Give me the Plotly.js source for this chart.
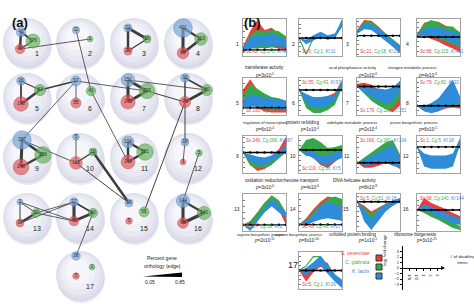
<!DOCTYPE html>
<html><head><meta charset="utf-8">
<script src="https://cdn.plot.ly/plotly-3.0.1.min.js"></script>
<style>html,body{margin:0;padding:0;background:#fff}#chart{width:474px;height:304px}</style>
</head><body><div id="chart"></div>
<script>
const W = 474, H = 304;
const FONT = 'Liberation Sans, Arial, sans-serif';

// ---------- (b) expression profiles of the 17 clusters ----------
const timePoints = [0, 1, 2, 3, 4, 5, 6];
const goTerms = ['transferase activity', '', 'acid phosphatase activity', 'nitrogen metabolic process',
  'regulation of transcription', 'protein refolding', 'aldehyde metabolic process', 'purine biosynthetic process',
  'oxidation reduction', 'hexose transport', 'DNA helicase activity', '',
  'arginine biosynthetic process', 'arginine biosynthetic process', 'unfolded protein binding', 'ribosome biogenesis', ''];
const pValues = ['3x10<sup>-5</sup>', '', '2x10<sup>-6</sup>', '4x10<sup>-6</sup>',
  '6x10<sup>-4</sup>', '1x10<sup>-4</sup>', '2x10<sup>-4</sup>', '6x10<sup>-5</sup>',
  '3x10<sup>-6</sup>', '4x10<sup>-6</sup>', '8x10<sup>-8</sup>', '',
  '2x10<sup>-11</sup>', '6x10<sup>-10</sup>', '1x10<sup>-5</sup>', '3x10<sup>-25</sup>', ''];

// genes per cluster and species (S. cerevisiae, C. glabrata, K. lactis)
const scCounts = [42, 0, 21, 88, 190, 55, 179, 79, 246, 119, 166, 1, 17, 45, 5, 68, 5];
const cgCounts = [176, 1, 18, 119, 83, 43, 226, 80, 286, 18, 281, 5, 30, 40, 51, 140, 1];
const klCounts = [46, 11, 21, 401, 26, 57, 151, 30, 387, 5, 104, 18, 2, 27, 18, 144, 26];

// log2 fold-change envelopes (upper / lower) per cluster
const scHigh = [
  [0.3, 1.5, 2.4, 1.6, 1.8, 1.3, 0.9], [], [0.6, 1.7, 1.6, 1.0, 0.2, -0.6, -1.2], [0.3, 1.5, 1.7, 1.6, 1.2, 1.0, 0.5],
  [1.5, 2.4, 1.5, 1.0, 0.6, 0.5, 0.4], [0, -0.5, -0.8, -0.8, -0.6, -0.3, 1.0], [0.3, 0.4, 0.2, -0.3, -0.8, -1.2, -0.8], [0, -0.1, 0.0, 0.3, 0.6, 0.8, 0.5],
  [0, -0.3, -0.6, -0.6, -0.3, 0.3, 1.5], [0, 0.3, 0.3, -0.3, -0.6, -0.5, 0], [0, 0.4, 0.8, 1.2, 1.6, 2.0, 0.4], [0, -1.0, -1.1, -1.1, -1.1, -1.0, 0.6],
  [0, 0.3, 1.0, 1.8, 2.2, 1.8, 0.5], [0, 0.5, 1.2, 1.8, 2.2, 2.1, 1.8], [0, -0.4, -1.0, -0.6, -0.2, 0.1, 0.4], [0, 1.2, 0.7, 0.4, 0.1, -0.3, -0.6],
  [0, -0.5, 0.8, 1.2, 0.8, -0.5, -1.2]];
const scLow = [
  [-0.3, 0.2, 0.3, 0.1, 0.2, 0.1, 0], [], [0.3, 0.9, 0.8, 0.2, -0.4, -1.2, -1.9], [0, 0.2, -0.2, -0.5, -0.9, -1.2, -1.6],
  [0, 0.5, 0.0, -0.3, -0.4, -0.4, -0.4], [0, -1.5, -2.0, -2.2, -2.0, -1.2, 0.3], [0, -0.5, -1.2, -1.8, -2.4, -2.7, -2.0], [0, -0.6, -0.7, -0.6, -0.3, -0.2, -0.3],
  [0, -1.2, -1.8, -1.6, -1.2, -0.5, 0.5], [0, -0.4, -0.8, -1.5, -1.8, -1.2, -0.6], [0, -0.5, -0.5, -0.3, 0, -0.2, -0.6], [0, -1.0, -1.1, -1.1, -1.1, -1.0, 0.6],
  [0, -0.1, 0.4, 1.2, 1.6, 1.2, 0], [0, 0, 0.3, 0.5, 0.6, 0.5, 0.3], [0, -1.0, -2.0, -1.2, -0.6, -0.3, 0], [0, 0.2, -0.1, -0.4, -0.7, -1.0, -1.2],
  [0, -1.2, -0.2, 0.4, 0, -1.0, -1.8]];
const cgHigh = [
  [0.2, 1.2, 1.6, 1.5, 1.6, 1.5, 1.1], [0, -1.8, 0, 0.3, 0, 0, 2.0], [0.5, 1.5, 1.5, 0.9, 0.2, -0.4, -1.0], [0.2, 1.4, 1.8, 1.5, 1.1, 1.1, 0.4],
  [1.0, 2.0, 1.6, 1.2, 0.9, 0.8, 0.6], [0, -0.6, -1.0, -1.0, -0.9, -0.5, 0.8], [0.2, 0.1, -0.2, -0.6, -1.0, -1.0, -0.3], [0, 0, 0.2, 0.5, 0.9, 1.2, 0.8],
  [0, -0.4, -0.7, -0.6, -0.4, 0, 0.8], [0, 1.0, 1.2, 0.8, 0.2, 0.3, 0.5], [0, 0.5, 1.0, 1.5, 2.0, 2.2, 0.8], [0, -0.9, -1.0, -1.0, -1.0, -0.9, 0.5],
  [0, 0.3, 1.0, 1.8, 2.4, 2.0, 1.0], [0, 0.4, 1.0, 1.6, 2.0, 2.2, 2.0], [0, -0.6, -1.2, -0.7, -0.3, 0, 0.4], [0, 0.2, -0.2, -0.5, -0.8, -1.2, -1.6],
  [0, 0.5, 1.5, 1.5, 0.5, -0.5, -1.5]];
const cgLow = [
  [-0.2, 0.1, 0.1, 0.2, 0.2, 0.3, 0.2], [0, -1.8, 0, 0.3, 0, 0, 2.0], [0.2, 0.8, 0.7, 0.1, -0.5, -1.1, -1.7], [0, 0.3, 0, -0.2, -0.5, -0.8, -1.1],
  [0, 0.3, 0.1, 0, -0.1, -0.1, -0.1], [0, -1.8, -2.3, -2.3, -2.0, -1.5, 0.2], [0, -0.8, -1.5, -2.0, -2.4, -2.3, -1.2], [0, -0.5, -0.6, -0.4, -0.2, 0, 0],
  [0, -1.3, -1.5, -1.5, -1.2, -0.6, 0], [0, -0.6, -0.5, -1.2, -1.4, -1.0, -0.6], [0, -0.2, 0, 0.2, 0.3, 0.2, -0.3], [0, -1.6, -1.8, -1.8, -1.8, -1.6, 0.2],
  [0, 0, 0.5, 1.2, 1.6, 1.4, 0.5], [0, 0.1, 0.4, 0.7, 0.9, 0.8, 0.6], [0, -1.4, -2.2, -1.4, -0.8, -0.4, 0], [0, -0.3, -0.7, -1.0, -1.4, -1.8, -2.0],
  [0, 0.5, 1.5, 1.5, 0.5, -0.5, -1.5]];
const klHigh = [
  [0.2, 1.0, 1.2, 1.2, 1.3, 1.1, 0.9], [0, -0.2, 0.3, 0.7, 0.3, 0.5, 1.9], [0.5, 1.3, 1.2, 0.8, 0.1, -0.5, -1.1], [0.2, 0.9, 1.0, 1.0, 0.8, 0.6, 0.3],
  [0.6, 1.2, 1.0, 0.9, 0.8, 0.7, 0.6], [0, -0.4, -0.7, -0.7, -0.6, -0.5, 0.9], [0.2, 0, -0.2, -0.2, -0.3, -0.1, 0.6], [0, 0, 0.3, 0.8, 1.8, 2.8, 1.0],
  [0, -0.2, -0.4, -0.5, -0.3, 0.1, 0.9], [0, 0, -0.2, -0.6, -0.6, -0.3, 0], [0, 0.3, 0.7, 1.0, 1.4, 1.8, 0.5], [0, -0.6, -0.8, -0.8, -0.8, -0.6, 0.8],
  [0, -0.2, 0.6, 1.3, 2.1, 1.6, 1.0], [0, 0.3, 0.8, 1.5, 1.8, 1.6, 1.4], [0, -0.8, -1.8, -0.8, -0.2, 0.1, 0.4], [0, 0.6, 0.3, 0.0, -0.3, -0.6, -0.8],
  [0, 0.3, 0.9, 1.6, 0.6, -0.4, -1.0]];
const klLow = [
  [-0.2, 0.1, 0.3, 0.3, 0.3, 0.3, 0.2], [0, -0.7, -0.3, 0.1, -0.2, 0, 1.2], [0.2, 0.7, 0.6, 0.0, -0.6, -1.2, -1.8], [0, 0.2, 0.1, -0.1, -0.3, -0.6, -0.9],
  [0, 0.1, 0.1, 0.1, 0, 0, 0], [0, -1.3, -1.8, -1.8, -1.6, -1.0, 0.4], [0, -0.6, -1.1, -1.5, -1.8, -1.6, -0.4], [0, -0.6, -0.8, -0.6, -0.2, 0.2, 0.1],
  [0, -0.9, -1.2, -1.2, -0.9, -0.4, 0.2], [0, -0.5, -0.8, -1.4, -1.5, -1.1, -0.8], [0, -0.3, -0.2, -0.1, 0, -0.3, -0.5], [0, -1.8, -2.0, -2.0, -2.0, -1.8, 0.2],
  [0, -0.5, 0.2, 1.0, 1.5, 1.0, 0.6], [0, -0.1, 0.2, 0.4, 0.5, 0.4, 0.3], [0, -2.0, -2.9, -2.0, -1.0, -0.4, 0], [0, 0, -0.4, -0.7, -1.0, -1.3, -1.5],
  [0, -0.6, 0.1, 0.5, -0.3, -1.2, -1.9]];

// vertical extent of each small panel (log2 fold change)
const yRanges = [[-0.5, 2.5], [-2, 2.1], [-2.2, 1.8], [-2, 1.9], [-0.6, 2.5], [-2.5, 1.2], [-3, 0.9], [-1, 3],
  [-2, 1.6], [-2.3, 1.4], [-1, 2.6], [-2.4, 1], [-0.5, 2.5], [-0.5, 2.4], [-3, 0.8], [-2.1, 1.6], [-2, 2]];
const labelOnTop = [false, false, false, false, false, true, false, true, true, false, true, true, false, false, true, true, false];

const speciesNames = ['S. cerevisiae', 'C. glabrata', 'K. lactis'];
const fillColors = ['#ec3d38', '#35a84a', '#2f8cd8'];
const textColors = ['#e8403b', '#3aae4a', '#3f86d8'];
const keyTicks = ['1/8', '1/2', '1', '2', '4'];

// ---------- (a) cluster network ----------
const bubbleCol = [0, 1, 2, 3, 0, 1, 2, 3, 0, 1, 2, 3, 0, 1, 2, 3, 1];
const bubbleRow = [0, 0, 0, 0, 1, 1, 1, 1, 2, 2, 2, 2, 3, 3, 3, 3, 4];
const bubbleXs = [27, 80, 134, 188];
const bubbleYs = [42, 97, 157, 217, 275];
// node placement inside each bubble: K. lactis (blue), C. glabrata (green), S. cerevisiae (red)
const klPos = [[21,32],[76,30],[128,28],[183,28],[21,81],[76,81],[128,80],[185,78],[22,140],[76,137],[128,142],[185,142],[20,202],[74,202],[129,203],[183,201],[76,256]];
const cgPos = [[33,41],[90,39],[147,39],[201,39],[40,90],[91,91],[147,91],[207,90],[43,155],[93,152],[145,152],[199,153],[36,213],[93,213],[144,212],[204,213],[92,267]];
const scPos = [[20,49],[76,50],[128,51],[183,53],[21,104],[76,103],[128,102],[185,102],[21,167],[76,163],[128,162],[183,162],[20,223],[74,221],[129,221],[183,223],[76,276]];
// edges: [from, to, percent gene orthology]
const edges = [
  ['1K','1C',0.5],['1K','1S',0.6],['1C','1S',0.3],
  ['3K','3C',0.7],['3K','3S',0.6],['3C','3S',0.3],
  ['4K','4C',0.5],['4K','4S',0.8],['4C','4S',0.7],
  ['5K','5C',0.2],['5K','5S',0.4],['5C','5S',0.6],
  ['6K','6S',0.1],
  ['7K','7C',0.7],['7K','7S',0.8],['7C','7S',0.7],
  ['8K','8C',0.3],['8K','8S',0.3],['8C','8S',0.7],
  ['9K','9C',0.7],['9K','9S',0.8],['9C','9S',0.5],
  ['10K','10S',0.1],['10C','10S',0.3],
  ['11K','11C',0.6],['11K','11S',0.6],['11C','11S',0.6],
  ['12K','12S',0.1],
  ['13K','13S',0.15],['13K','13C',0.15],['13C','13S',0.5],
  ['14K','14C',0.4],['14K','14S',0.8],['14C','14S',0.7],
  ['16K','16C',0.5],['16K','16S',0.8],['16C','16S',0.8],
  ['1S','2C',0.1],['2K','6C',0.1],['6K','5C',0.3],['6K','7C',0.1],['6K','9K',0.1],
  ['6C','11S',0.1],['7K','8C',0.1],['7C','8S',0.15],['8S','12K',0.15],['8S','15C',0.15],
  ['9K','10S',0.1],['10S','15K',0.15],['10C','15K',0.6],['12C','16K',0.1],
  ['13K','14S',0.1],['13S','14K',0.1],['13C','14K',0.1],['13C','14S',0.1],['14C','17K',0.1]];

const px = x => x / W, py = y => 1 - y / H;
const data = [], shapes = [], annotations = [];
const layout = {
  width: W, height: H, margin: {l: 0, r: 0, t: 0, b: 0},
  paper_bgcolor: '#fff', plot_bgcolor: 'rgba(0,0,0,0)', showlegend: false,
  font: {family: FONT, color: '#222'}
};

// ----- small profile panels -----
const colLeft = [243, 299, 357, 417], rowTop = [19, 78, 136, 194, 252], boxW = 43, boxH = 37;
const cellCol = [0, 1, 2, 3, 0, 1, 2, 3, 0, 1, 2, 3, 0, 1, 2, 3, 1];
const cellRow = [0, 0, 0, 0, 1, 1, 1, 1, 2, 2, 2, 2, 3, 3, 3, 3, 4];
const titleShift = [0, 0, 0, 0, 0, 0, 0, 0, 0, 0, 0, 0, -4, 3, 0, 0, 0];
const highs = [scHigh, cgHigh, klHigh], lows = [scLow, cgLow, klLow], counts = [scCounts, cgCounts, klCounts];

for (let i = 0; i < 17; i++) {
  const s = i === 0 ? '' : String(i + 1);
  const x0 = colLeft[cellCol[i]], y0 = rowTop[cellRow[i]];
  layout['xaxis' + s] = {domain: [px(x0), px(x0 + boxW)], range: [0, 6], anchor: 'y' + s,
    showgrid: false, zeroline: false, showticklabels: false, ticks: '', showline: true, mirror: true,
    linecolor: '#8c8c8c', linewidth: 0.8, fixedrange: true};
  layout['yaxis' + s] = {domain: [py(y0 + boxH), py(y0)], range: yRanges[i], anchor: 'x' + s,
    showgrid: false, zeroline: false, showticklabels: false, ticks: 'inside', ticklen: 2, tickwidth: 0.8,
    tickcolor: '#555', dtick: 0.5, showline: true, mirror: true, linecolor: '#8c8c8c', linewidth: 0.8, fixedrange: true};
  for (let k = 0; k < 3; k++) {
    const n = counts[k][i];
    if (n === 0) continue;
    const hi = highs[k][i], lo = lows[k][i];
    if (n === 1) {
      data.push({type: 'scatter', mode: 'lines', x: timePoints, y: hi, xaxis: 'x' + s, yaxis: 'y' + s,
        line: {color: fillColors[k], width: 1.1}, hoverinfo: 'skip'});
    } else {
      data.push({type: 'scatter', mode: 'lines', fill: 'toself',
        x: timePoints.concat(timePoints.slice().reverse()), y: hi.concat(lo.slice().reverse()),
        xaxis: 'x' + s, yaxis: 'y' + s, fillcolor: fillColors[k], line: {width: 0, color: fillColors[k]}, hoverinfo: 'skip'});
    }
  }
  data.push({type: 'scatter', mode: 'lines+markers', x: timePoints, y: timePoints.map(() => 0),
    xaxis: 'x' + s, yaxis: 'y' + s, line: {color: '#000', width: 1.4}, marker: {color: '#000', size: 2.5}, hoverinfo: 'skip', cliponaxis: true});

  const lbl = '<span style="color:' + textColors[0] + '"><i>Sc</i>:' + scCounts[i] + ',</span> ' +
    '<span style="color:' + textColors[1] + '"><i>Cg</i>:' + cgCounts[i] + ',</span> ' +
    '<span style="color:' + textColors[2] + '"><i>Kl</i>:' + klCounts[i] + '</span>';
  annotations.push({xref: 'paper', yref: 'paper', x: px(x0 + 1), y: py(labelOnTop[i] ? y0 + 4 : y0 + boxH - 4.5),
    xanchor: 'left', yanchor: 'middle', text: lbl, showarrow: false, font: {size: 4.5, family: FONT}});
  annotations.push({xref: 'paper', yref: 'paper', x: px(x0 - 6), y: py(y0 + boxH / 2 + 1),
    text: String(i + 1), showarrow: false, font: {size: i === 16 ? 9 : 5, family: FONT, color: '#222'}});
  if (goTerms[i]) {
    const fs = Math.min(4.6, 106 / goTerms[i].length);
    const tx = x0 + boxW / 2 + titleShift[i];
    annotations.push({xref: 'paper', yref: 'paper', x: px(tx), y: py(y0 + boxH + 7.5),
      text: goTerms[i], showarrow: false, font: {size: fs, family: FONT, color: '#222'}});
    annotations.push({xref: 'paper', yref: 'paper', x: px(x0 + boxW / 2), y: py(y0 + boxH + 13.5),
      text: '<i>p</i>=' + pValues[i], showarrow: false, font: {size: 4.6, family: FONT, color: '#222'}});
  }
}

// species key
for (let k = 0; k < 3; k++) {
  const yk = 258 + k * 9;
  annotations.push({xref: 'paper', yref: 'paper', x: px(372), y: py(yk), xanchor: 'right',
    text: '<i>' + speciesNames[k] + '</i>', showarrow: false, font: {size: 5, family: FONT, color: textColors[k]}});
  shapes.push({type: 'rect', xref: 'paper', yref: 'paper', x0: px(376), x1: px(382), y0: py(yk + 3), y1: py(yk - 3),
    fillcolor: fillColors[k], line: {color: '#333', width: 1}});
}

// axis key: log2 fold change vs number of doubling times
layout.xaxis19 = {domain: [px(403), px(442)], range: [0, 5.6], anchor: 'free', position: py(268),
  showline: true, linecolor: '#000', linewidth: 1.2, ticks: 'outside', ticklen: 2, tickcolor: '#000',
  tickvals: [1, 2, 3, 4, 5], ticktext: keyTicks, tickfont: {size: 4.2, family: FONT}, showgrid: false, zeroline: false, fixedrange: true};
layout.yaxis19 = {domain: [py(290), py(246)], range: [-4, 4], anchor: 'x19',
  showline: true, linecolor: '#000', linewidth: 1.2, ticks: 'outside', ticklen: 2, tickcolor: '#000',
  tickvals: [-3, -2, -1, 0, 1, 2, 3], tickfont: {size: 4, family: FONT}, showgrid: false, zeroline: false, fixedrange: true};
data.push({type: 'scatter', mode: 'markers', x: [0], y: [0], xaxis: 'x19', yaxis: 'y19', marker: {size: 0.1, color: 'rgba(0,0,0,0)'}, hoverinfo: 'skip'});
annotations.push({xref: 'paper', yref: 'paper', x: px(445), y: py(268), ax: -3, ay: 0, showarrow: true,
  arrowhead: 2, arrowsize: 0.8, arrowwidth: 1, arrowcolor: '#000', text: ''});
annotations.push({xref: 'paper', yref: 'paper', x: px(448), y: py(267), xanchor: 'left',
  text: '# of doubling<br>      times', align: 'left', showarrow: false, font: {size: 4.4, family: FONT}});
annotations.push({xref: 'paper', yref: 'paper', x: px(390), y: py(268), textangle: -90,
  text: 'log<sub>2</sub> fold change', showarrow: false, font: {size: 4.4, family: FONT}});

// ----- network panel -----
layout.xaxis18 = {domain: [0, px(240)], range: [0, 240], anchor: 'y18', visible: false, fixedrange: true};
layout.yaxis18 = {domain: [0, 1], range: [H, 0], anchor: 'x18', visible: false, fixedrange: true};

for (let c = 0; c < 17; c++) {
  const cx = bubbleXs[bubbleCol[c]], cy = bubbleYs[bubbleRow[c]], r = 24;
  const circ = (dx, dy, rad, color) => ({type: 'circle', xref: 'x18', yref: 'y18', layer: 'below',
    x0: cx + dx - rad, x1: cx + dx + rad, y0: cy + dy - rad, y1: cy + dy + rad, fillcolor: color, line: {width: 0}});
  shapes.push(circ(1, 4, r, 'rgba(175,175,205,0.30)'));
  shapes.push(circ(0.5, 2, r, 'rgba(185,185,212,0.35)'));
  shapes.push(circ(0, 0, r, '#e0dfed'));
  shapes.push(circ(-0.5, -1, r - 3, '#e8e8f2'));
  shapes.push(circ(-1.5, -2.5, r - 7, '#efeff6'));
  shapes.push(circ(-2.5, -4, r - 12, '#f7f7fb'));
  annotations.push({xref: 'x18', yref: 'y18', x: cx + 10, y: cy + 11, text: String(c + 1), showarrow: false,
    font: {size: 7, family: FONT, color: '#222'}});
}

const nodeXY = id => {
  const c = parseInt(id, 10) - 1, sp = id.slice(-1);
  return sp === 'K' ? klPos[c] : sp === 'C' ? cgPos[c] : scPos[c];
};
for (const [a, b, p] of edges) {
  const A = nodeXY(a), B = nodeXY(b);
  data.push({type: 'scatter', mode: 'lines', x: [A[0], B[0]], y: [A[1], B[1]], xaxis: 'x18', yaxis: 'y18',
    line: {color: '#3c3c3c', width: 0.5 + 3.2 * p}, hoverinfo: 'skip'});
}

const nodeSpecies = [
  {cnt: klCounts, pos: klPos, fill: '#7aa6d8', edge: '#4d7cb3'},
  {cnt: cgCounts, pos: cgPos, fill: '#66b65f', edge: '#3f8a3c'},
  {cnt: scCounts, pos: scPos, fill: '#e2585c', edge: '#b23a3e'}];
for (const sp of nodeSpecies) {
  const idx = sp.cnt.map((n, i) => i).filter(i => sp.cnt[i] > 0);
  data.push({type: 'scatter', mode: 'markers+text', xaxis: 'x18', yaxis: 'y18',
    x: idx.map(i => sp.pos[i][0]), y: idx.map(i => sp.pos[i][1]), text: idx.map(i => String(sp.cnt[i])),
    textposition: 'middle center', textfont: {size: 4.8, family: FONT, color: '#333'},
    marker: {size: idx.map(i => 5 + 0.68 * Math.sqrt(sp.cnt[i])), color: sp.fill, line: {color: sp.edge, width: 0.7}},
    hoverinfo: 'skip', cliponaxis: false});
}

// edge-width key
shapes.push({type: 'path', xref: 'x18', yref: 'y18', path: 'M143,276.5 L182,272.5 L182,277 Z', fillcolor: '#000', line: {width: 0}});
annotations.push({xref: 'x18', yref: 'y18', x: 162, y: 258, text: 'Percent gene', showarrow: false, font: {size: 5, family: FONT}});
annotations.push({xref: 'x18', yref: 'y18', x: 162, y: 266, text: 'orthology (edge)', showarrow: false, font: {size: 5, family: FONT}});
annotations.push({xref: 'x18', yref: 'y18', x: 150, y: 282, text: '0.05', showarrow: false, font: {size: 5, family: FONT}});
annotations.push({xref: 'x18', yref: 'y18', x: 180, y: 282, text: '0.85', showarrow: false, font: {size: 5, family: FONT}});

// panel letters
annotations.push({xref: 'paper', yref: 'paper', x: px(10), y: py(13), xanchor: 'left', text: '<b>(a)</b>', showarrow: false, font: {size: 13, family: FONT, color: '#111'}});
annotations.push({xref: 'paper', yref: 'paper', x: px(242), y: py(13), xanchor: 'left', text: '<b>(b)</b>', showarrow: false, font: {size: 13, family: FONT, color: '#111'}});

layout.shapes = shapes;
layout.annotations = annotations;
Plotly.newPlot('chart', data, layout, {staticPlot: true, displayModeBar: false});
</script>
</body></html>
